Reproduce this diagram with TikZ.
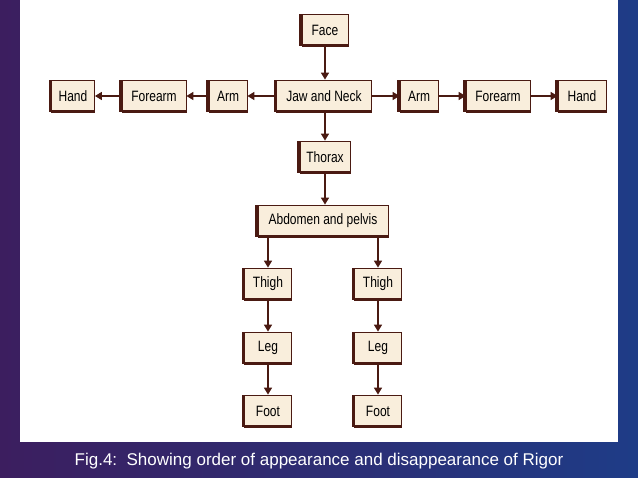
\documentclass[tikz,border=0pt]{standalone}
\usepackage{fontspec}
\setmainfont{Liberation Sans}
\usetikzlibrary{arrows.meta}
\definecolor{bx}{HTML}{F9EEDC}
\definecolor{br}{HTML}{4A1A12}
\begin{document}
\begin{tikzpicture}[x=1pt,y=-1pt,
 b/.style={draw=br,fill=bx,line width=0.8pt,inner sep=0pt,minimum height=32pt,
   font=\fontsize{15}{15}\selectfont},
 a/.style={draw=br,line width=1.5pt,-{Triangle[length=7pt,width=8pt]}}]
\useasboundingbox (0,0) rectangle (638,478);
\shade[left color={rgb,255:red,60;green,30;blue,95},right color={rgb,255:red,30;green,60;blue,135}] (0,0) rectangle (638,478);
\fill[white] (20,0) rectangle (618,442);
\node[b,minimum width=46pt] (face) at (325,30) {\scalebox{.8}[1]{Face}};
\node[b,minimum width=95pt] (jaw) at (324,96) {\scalebox{.8}[1]{Jaw and Neck}};
\node[b,minimum width=38pt] (ar) at (419,96) {\scalebox{.8}[1]{Arm}};
\node[b,minimum width=64pt] (fr) at (498,96) {\scalebox{.8}[1]{Forearm}};
\node[b,minimum width=48pt] (hr) at (582,96) {\scalebox{.8}[1]{Hand}};
\node[b,minimum width=38pt] (al) at (228,96) {\scalebox{.8}[1]{Arm}};
\node[b,minimum width=64pt] (fl) at (154,96) {\scalebox{.8}[1]{Forearm}};
\node[b,minimum width=43pt] (hl) at (73,96) {\scalebox{.8}[1]{Hand}};
\node[b,minimum width=50pt] (th) at (325,157) {\scalebox{.8}[1]{Thorax}};
\node[b,minimum width=130pt] (ab) at (323,221) {\scalebox{.8}[1]{Abdomen and pelvis}};
\node[b,minimum width=47pt] (tl) at (268,284) {\scalebox{.8}[1]{Thigh}};
\node[b,minimum width=47pt] (tr) at (378,284) {\scalebox{.8}[1]{Thigh}};
\node[b,minimum width=47pt] (ll) at (268,348) {\scalebox{.8}[1]{Leg}};
\node[b,minimum width=47pt] (lr) at (378,348) {\scalebox{.8}[1]{Leg}};
\node[b,minimum width=47pt] (fol) at (268,411) {\scalebox{.8}[1]{Foot}};
\node[b,minimum width=47pt] (for) at (378,411) {\scalebox{.8}[1]{Foot}};
\foreach \n in {face,jaw,ar,fr,hr,al,fl,hl,th,ab,tl,tr,ll,lr,fol,for}
  \draw[br,line width=2.4pt] ([xshift=-1.2pt,yshift=-0.5pt]\n.north west) -- ([xshift=-1.2pt,yshift=1.2pt]\n.south west) -- ([yshift=1.2pt]\n.south east);
\draw[a] (face) -- (face |- jaw.north);
\draw[a] (jaw) -- (ar); \draw[a] (ar) -- (fr); \draw[a] (fr) -- (hr);
\draw[a] (jaw) -- (al); \draw[a] (al) -- (fl); \draw[a] (fl) -- (hl);
\draw[a] (jaw.south -| th) -- (th);
\draw[a] (th.south) -- (th.south |- ab.north);
\draw[a] (ab.south -| tl) -- (tl); \draw[a] (ab.south -| tr) -- (tr);
\draw[a] (tl) -- (ll); \draw[a] (ll) -- (fol);
\draw[a] (tr) -- (lr); \draw[a] (lr) -- (for);
\node[text=white,font=\fontsize{17}{17}\selectfont] (cap) at (319,461) {Fig.4:\ \ Showing order of appearance and disappearance of Rigor};
\end{tikzpicture}
\end{document}
